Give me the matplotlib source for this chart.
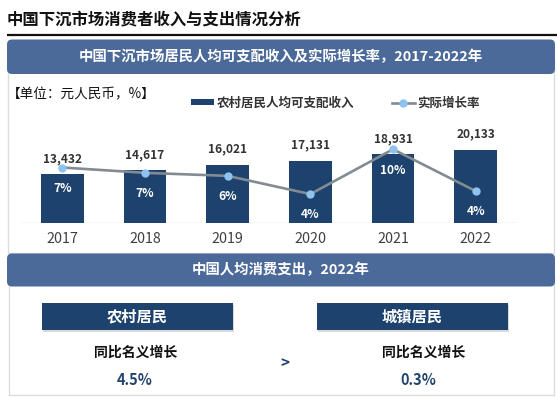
import matplotlib
matplotlib.use("Agg")
import matplotlib.pyplot as plt
from matplotlib.patches import FancyBboxPatch, Rectangle
from matplotlib.lines import Line2D

plt.rcParams['font.family'] = ['Noto Sans CJK SC', 'DejaVu Sans']

# ---- data ----
years = ['2017', '2018', '2019', '2020', '2021', '2022']
income = [13432, 14617, 16021, 17131, 18931, 20133]
real_growth = [7.3, 6.6, 6.2, 3.8, 9.7, 4.2]
series_names = ['农村居民人均可支配收入', '实际增长率']
groups = ['农村居民', '城镇居民']
consumption_growth = [4.5, 0.3]

main_title = '中国下沉市场消费者收入与支出情况分析'
chart_title = '中国下沉市场居民人均可支配收入及实际增长率，2017-2022年'
unit_text = '【单位：元人民币，%】'
section_title = '中国人均消费支出，2022年'
metric_label = '同比名义增长'

NAVY = '#1C426D'
HEADER = '#4B6A99'
LINE = '#828B91'
DOT = '#8EC3F0'
W, H = 557, 397

fig = plt.figure(figsize=(W / 100, H / 100), dpi=100)
fig.patch.set_facecolor('white')

# overlay in pixel coordinates
ov = fig.add_axes([0, 0, 1, 1], zorder=0)
ov.set_xlim(0, W)
ov.set_ylim(H, 0)
ov.axis('off')

ov.text(7, 19.5, main_title, fontsize=11.8, fontweight='bold', color='#111111',
        ha='left', va='center')
ov.plot([7, W], [34.5, 34.5], color='#111111', lw=1.6, solid_capstyle='butt')

# top panel
ov.add_patch(Rectangle((8, 60), 546, 193, facecolor='white', edgecolor='#dcdcdc', lw=1))
ov.add_patch(FancyBboxPatch((7, 39.5), 548, 34.5, boxstyle='round,pad=0,rounding_size=5',
                            facecolor=HEADER, edgecolor='none'))
ov.text(281, 57, chart_title, fontsize=10.4, fontweight='bold', color='white',
        ha='center', va='center')
ov.text(7, 94, unit_text, fontsize=9.8, color='#111111', ha='left', va='center')

# bottom panel
ov.add_patch(Rectangle((9, 275), 545, 120, facecolor='white', edgecolor='#dcdcdc', lw=1))
ov.add_patch(FancyBboxPatch((7, 253.5), 548, 33, boxstyle='round,pad=0,rounding_size=5',
                            facecolor=HEADER, edgecolor='none'))
ov.text(281, 270, section_title, fontsize=10.4, fontweight='bold', color='white',
        ha='center', va='center')

box_x = [41.5, 316.5]
box_w = 191
label_cx = [136, 424]
value_cx = [135, 418]
for bx, lcx, vcx, g, v in zip(box_x, label_cx, value_cx, groups, consumption_growth):
    ov.add_patch(Rectangle((bx + 1.5, 304.5), box_w, 27, facecolor='#bfbfbf',
                           edgecolor='none', alpha=0.6))
    ov.add_patch(Rectangle((bx, 303), box_w, 27, facecolor=NAVY, edgecolor='none'))
    ov.text(bx + box_w / 2, 316.5, g, fontsize=11, fontweight='bold', color='white',
            ha='center', va='center')
    ov.text(lcx, 353, metric_label, fontsize=10, fontweight='bold', color='#111111',
            ha='center', va='center')
    ov.text(vcx, 380, f'{v:.1f}%', fontsize=10.5, fontweight='bold', color='#23446E',
            ha='center', va='center')
ov.text(285, 363, '>', fontsize=11, fontweight='bold', color=NAVY, ha='center', va='center')

# ---- chart ----
bottom_px, top_px = 223, 130
ax = fig.add_axes([21 / W, (H - bottom_px) / H, 496 / W, (bottom_px - top_px) / H], zorder=2)
ax.patch.set_alpha(0)
x = list(range(len(years)))
bars = ax.bar(x, income, width=0.52, color=NAVY, label=series_names[0], zorder=2)
ax.set_xlim(-0.5, 5.5)
ax.set_ylim(0, (bottom_px - top_px) / 0.003645)
for s in ax.spines.values():
    s.set_visible(False)
ax.axhline(0, color='#d3d3d3', lw=1, zorder=1)
ax.set_yticks([])
ax.set_xticks([])
for xi, v, yr in zip(x, income, years):
    ax.annotate(f'{v:,}', (xi, v), xytext=(0, 11), textcoords='offset points',
                ha='center', va='center', fontsize=8.6, fontweight='bold', color='#333333')
    ax.annotate(yr, (xi, 0), xytext=(0, -11.2), textcoords='offset points',
                ha='center', va='center', fontsize=10.3, fontweight='medium', color='#404040')

ax2 = ax.twinx()
ax2.set_zorder(3)
ax2.patch.set_alpha(0)
ax2.set_ylim(0, (bottom_px - top_px) / 7.6)
line, = ax2.plot(x, real_growth, color=LINE, lw=1.9, marker='o', ms=5,
                 mfc=DOT, mec=DOT, label=series_names[1], zorder=3)
for s in ax2.spines.values():
    s.set_visible(False)
ax2.set_yticks([])
for xi, g in zip(x, real_growth):
    ax2.annotate(f'{g:.0f}%', (xi, g), xytext=(0, -15), textcoords='offset points',
                 ha='center', va='center', fontsize=8.6, fontweight='bold', color='white')

leg = fig.legend(handles=[bars, line], labels=series_names, loc='center left',
                 bbox_to_anchor=(191 / W, 1 - 103 / H), ncol=2, frameon=False,
                 fontsize=9, handlelength=1.85, handleheight=0.45, handletextpad=0.2,
                 columnspacing=3.0, borderpad=0, borderaxespad=0)
for t in leg.get_texts():
    t.set_color('#333333')
    t.set_fontweight('bold')

fig.savefig('out.png', dpi=100, facecolor='white')
